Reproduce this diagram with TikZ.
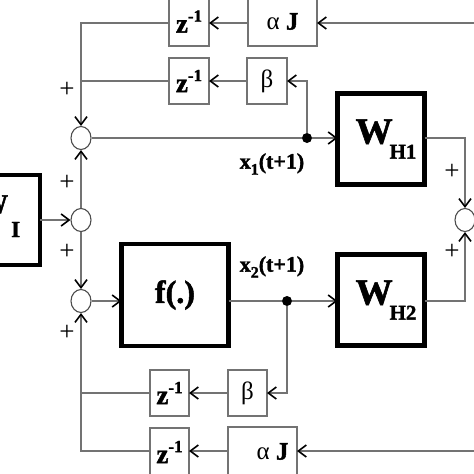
\documentclass[tikz,border=0pt]{standalone}
\usepackage{fontspec}
\setmainfont{Liberation Serif}[BoldFeatures={FakeBold=1.6}]
\usetikzlibrary{shapes.geometric}
\usetikzlibrary{positioning}
\usetikzlibrary{arrows.meta}

\newcommand{\zinv}{\textbf{z}\raisebox{11pt}{\fontsize{17}{17}\selectfont\textbf{-1}}}
\newcommand{\wsub}[1]{\textbf{W}\kern-3pt\raisebox{-15pt}{\fontsize{21}{21}\selectfont\textbf{#1}}}
\newcommand{\xsub}[1]{\textbf{x}\raisebox{-6pt}{\fontsize{16}{16}\selectfont\textbf{#1}}\textbf{(t+1)}}

\begin{document}
\begin{tikzpicture}[x=1pt,y=-1pt,
        >={Straight Barb[length=8pt,width=12pt,line width=1.6pt,black]},
        wire/.style={draw=black!55,line width=1.2pt},
        thinbox/.style={draw=black!55,line width=1.2pt,rectangle,minimum width=40pt,minimum height=46pt,inner sep=0pt,outer sep=0pt,font=\fontsize{27}{27}\selectfont},
        thickbox/.style={draw,line width=4.4pt,rectangle,inner sep=0pt,outer sep=0pt},
        sumnode/.style={draw=black!70,line width=1.1pt,ellipse,minimum width=20pt,minimum height=23pt,inner sep=0pt},
        dotnode/.style={circle,fill,minimum size=10pt,inner sep=0pt},
        sign/.style={font=\fontsize{27}{27}\selectfont,inner sep=0pt},
        gain/.style={font=\fontsize{25}{25}\selectfont},
        xlabel/.style={font=\fontsize{22}{22}\selectfont,inner sep=0pt}]
   \useasboundingbox (0,0) rectangle (474,474);
   \clip (0,0) rectangle (474,474);
   % summing points
   \node[sumnode] (s1) at (81,138) {};
   \node[sumnode] (s2) at (81,220) {};
   \node[sumnode] (s3) at (81,301) {};
   \node[sumnode] (so) at (465,220) {};
   % main blocks
   \node[thickbox,minimum width=100pt,minimum height=90pt] (wi) at (-10,220) {};
   \node[anchor=base west,inner sep=0pt,font=\fontsize{27}{27}\selectfont] (wit) at (-19,213)
        {\textbf{W}\hspace{3pt}\raisebox{-24pt}{\fontsize{23}{23}\selectfont\textbf{I}}};
   \node[thickbox,minimum width=87pt,minimum height=91pt,font=\fontsize{37}{37}\selectfont] (wh1) at (381,139) {\hspace*{10pt}\wsub{H1}};
   \node[thickbox,minimum width=87pt,minimum height=91pt,font=\fontsize{37}{37}\selectfont] (wh2) at (381,300) {\hspace*{10pt}\wsub{H2}};
   \node[thickbox,minimum width=107pt,minimum height=102pt,font=\fontsize{32}{32}\selectfont] (f) at (175,295) {\textbf{f(.)}};
   % delay and gain blocks
   \node[thinbox,minimum height=49pt] (zt1) at (189,21.5) {\zinv};
   \node[thinbox] (zt2) at (189,81) {\zinv};
   \node[thinbox,gain,minimum width=69pt,minimum height=49pt] (aJt) at (282.5,21.5) {α \textbf{J}};
   \node[thinbox,gain] (bt) at (267,81) {β};
   \node[thinbox,minimum width=39pt] (zb1) at (169.5,393) {\zinv};
   \node[thinbox,minimum width=39pt,minimum height=48pt] (zb2) at (169.5,452) {\zinv};
   \node[thinbox,gain,minimum width=39pt] (bb) at (247.5,393) {β};
   \node[thinbox,gain,minimum width=69pt,minimum height=49pt] (aJb) at (262.5,451.5) {\hspace*{20pt}α \textbf{J}};
   % branch points
   \node[dotnode] (d1) at (307,138) {};
   \node[dotnode] (d2) at (287,301) {};
   \coordinate (inA) at (474,23);
   \coordinate (inB) at (474,451);
   % labels
   \node[xlabel] (x1) at (272,164) {\xsub{1}};
   \node[xlabel] (x2) at (272,267) {\xsub{2}};
   \node[sign] (p1) at (67,90) {+};
   \node[sign] (p2) at (67,183) {+};
   \node[sign] (p3) at (67,252) {+};
   \node[sign] (p4) at (67,333) {+};
   \node[sign] (p5) at (452,172) {+};
   \node[sign] (p6) at (452,252) {+};
   % upper loop
   \draw[wire,->] (inA) -- (aJt.east |- inA);
   \draw[wire,->] (aJt.west |- inA) -- (zt1.east |- inA);
   \draw[wire,->] (zt1.west |- inA) -| (s1.north);
   \draw[wire,->] (bt.west) -- (zt2.east);
   \draw[wire] (zt2.west) -- (zt2.west -| s1);
   \draw[wire] (s1) -- (d1);
   \draw[wire,->] (d1) -- (wh1.west |- d1);
   \draw[wire,->] (d1) |- (bt.east);
   \draw[wire,->] (wh1.east |- d1) -| (so.north);
   % input and middle
   \draw[wire,->] (wi.east |- s2) -- (s2);
   \draw[wire,->] (s2) -- (s1);
   \draw[wire,->] (s2) -- (s3);
   \draw[wire,->] (s3) -- (f.west |- s3);
   \draw[wire] (f.east |- d2) -- (d2);
   \draw[wire,->] (d2) -- (wh2.west |- d2);
   \draw[wire,->] (wh2.east |- d2) -| (so.south);
   % lower loop
   \draw[wire,->] (d2) |- (bb.east);
   \draw[wire,->] (bb.west) -- (zb1.east);
   \draw[wire] (zb1.west) -- (zb1.west -| s3);
   \draw[wire,->] (inB) -- (aJb.east |- inB);
   \draw[wire,->] (aJb.west |- inB) -- (zb2.east |- inB);
   \draw[wire,->] (zb2.west |- inB) -| (s3.south);
\end{tikzpicture}
\end{document}
